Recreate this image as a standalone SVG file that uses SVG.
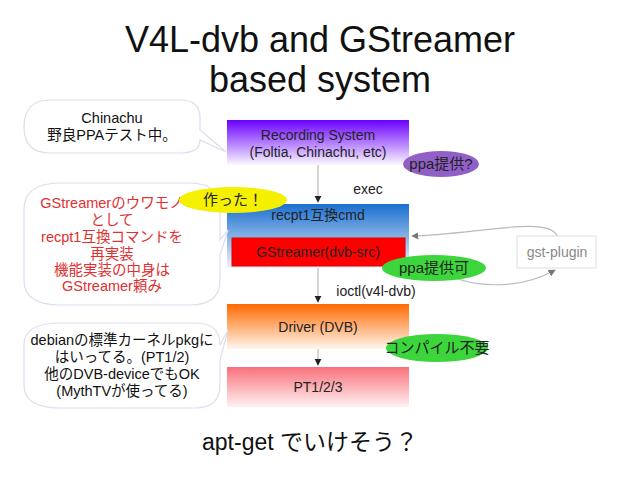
<svg xmlns="http://www.w3.org/2000/svg" width="638" height="478" viewBox="0 0 638 478">
<defs>
<style>
text{font-family:"Liberation Sans","Noto Sans CJK JP",sans-serif;}
.t{font-size:14px;fill:#222;text-anchor:middle}
.e{font-size:15px;fill:#222;text-anchor:middle}
.c{font-size:14.5px;text-anchor:middle}
.bub{fill:#fff;stroke:#dde;stroke-width:1.2}
.conn{stroke:#bbb;stroke-width:1.2;fill:none}
</style>
<linearGradient id="gP" x1="0" y1="0" x2="0" y2="1"><stop offset="0" stop-color="#6a00ff"/><stop offset="1" stop-color="#fbf8ff"/></linearGradient>
<linearGradient id="gB" x1="0" y1="0" x2="0" y2="1"><stop offset="0" stop-color="#1a6fd0"/><stop offset="1" stop-color="#eef4fc"/></linearGradient>
<linearGradient id="gO" x1="0" y1="0" x2="0" y2="1"><stop offset="0" stop-color="#ff6a00"/><stop offset="1" stop-color="#fff6ee"/></linearGradient>
<linearGradient id="gR" x1="0" y1="0" x2="0" y2="1"><stop offset="0" stop-color="#f8707a"/><stop offset="1" stop-color="#fff2f3"/></linearGradient>
<marker id="ar" viewBox="0 0 10 10" refX="9" refY="5" markerWidth="6" markerHeight="6" orient="auto"><path d="M0,0L10,5L0,10z" fill="#222"/></marker>
<marker id="ag" viewBox="0 0 10 10" refX="9" refY="5" markerWidth="6" markerHeight="6" orient="auto"><path d="M0,0L10,5L0,10z" fill="#777"/></marker>
</defs>
<rect width="638" height="478" fill="#fff"/>
<g id="title">
<text x="320" y="52" style="font-size:36px;text-anchor:middle;fill:#111">V4L-dvb and GStreamer</text>
<text x="320" y="92" style="font-size:36px;text-anchor:middle;fill:#111">based system</text>
</g>
<g id="connectors">
<line class="conn" x1="318" y1="165" x2="318" y2="202" marker-end="url(#ar)"/>
<line class="conn" x1="318" y1="268" x2="318" y2="302" marker-end="url(#ar)"/>
<line class="conn" x1="318" y1="349" x2="318" y2="365" marker-end="url(#ar)"/>
<path class="conn" d="M557,236 C550,215 470,235 412,236" marker-end="url(#ag)"/>
<path class="conn" d="M434,268 C470,290 520,290 555,270" marker-end="url(#ag)"/>
<text x="368" y="194" class="t">exec</text>
<text x="376" y="296" class="t">ioctl(v4l-dvb)</text>
</g>
<g id="n-rec"><rect x="227" y="120" width="182" height="45" fill="url(#gP)"/>
<text x="318" y="140" class="t">Recording System</text><text x="318" y="157" class="t">(Foltia, Chinachu, etc)</text></g>
<g id="n-recpt"><rect x="227" y="204" width="182" height="64" fill="url(#gB)"/>
<text x="318" y="220" class="t">recpt1互換cmd</text></g>
<g id="n-gst"><rect x="232" y="238" width="173" height="28" fill="#f00" stroke="#d00"/>
<text x="318" y="257" class="t">GStreamer(dvb-src)</text></g>
<g id="n-drv"><rect x="227" y="304" width="182" height="45" fill="url(#gO)"/>
<text x="318" y="332" class="t">Driver (DVB)</text></g>
<g id="n-pt"><rect x="227" y="367" width="182" height="40" fill="url(#gR)"/>
<text x="318" y="392" class="t">PT1/2/3</text></g>
<g id="n-plugin"><rect x="517" y="236" width="79" height="32" fill="#fff" stroke="#ddd"/>
<text x="557" y="257" class="t" style="fill:#888">gst-plugin</text></g>
<g id="b1"><path class="bub" d="M50,100 H180 Q200,100 200,118 L200,130 L226,152 L200,140 Q200,153 180,153 H50 Q24,153 24,127 Q24,100 50,100Z"/>
<text x="112" y="123" class="c" fill="#111">Chinachu</text><text x="112" y="140" class="c" fill="#111">野良PPAテスト中。</text></g>
<g id="b2"><path class="bub" d="M60,183 H190 Q220,183 220,210 L220,240 L228,230 L220,255 L220,280 Q220,305 190,305 H60 Q24,305 24,280 V210 Q24,183 60,183Z"/>
<g class="c" fill="#e03030"><text x="112" y="208">GStreamerのウワモノ</text><text x="112" y="225">として</text><text x="112" y="242">recpt1互換コマンドを</text><text x="112" y="259">再実装</text><text x="112" y="275">機能実装の中身は</text><text x="112" y="291">GStreamer頼み</text></g></g>
<g id="b3"><path class="bub" d="M60,323 H195 Q220,323 220,345 L228,330 L220,360 V385 Q220,408 195,408 H60 Q24,408 24,385 V345 Q24,323 60,323Z"/>
<g class="c" fill="#111"><text x="122" y="345">debianの標準カーネルpkgに</text><text x="122" y="362">はいってる。(PT1/2)</text><text x="122" y="379">他のDVB-deviceでもOK</text><text x="122" y="396">(MythTVが使ってる)</text></g></g>
<g id="e-ppa1"><ellipse cx="441" cy="164" rx="38" ry="13" fill="#9060c8"/><text x="441" y="169" class="e">ppa提供?</text></g>
<g id="e-made"><ellipse cx="233" cy="200" rx="54" ry="13" fill="#f4f000"/><text x="233" y="205" class="e">作った！</text></g>
<g id="e-ppa2"><ellipse cx="434" cy="268" rx="52" ry="13" fill="#3cd63c"/><text x="434" y="273" class="e">ppa提供可</text></g>
<g id="e-comp"><ellipse cx="437" cy="348" rx="51" ry="14" fill="#3cd63c"/><text x="437" y="353" class="e">コンパイル不要</text></g>
<g id="footer"><text x="310" y="450" style="font-size:23px;text-anchor:middle;fill:#111">apt-get でいけそう？</text></g>
</svg>
